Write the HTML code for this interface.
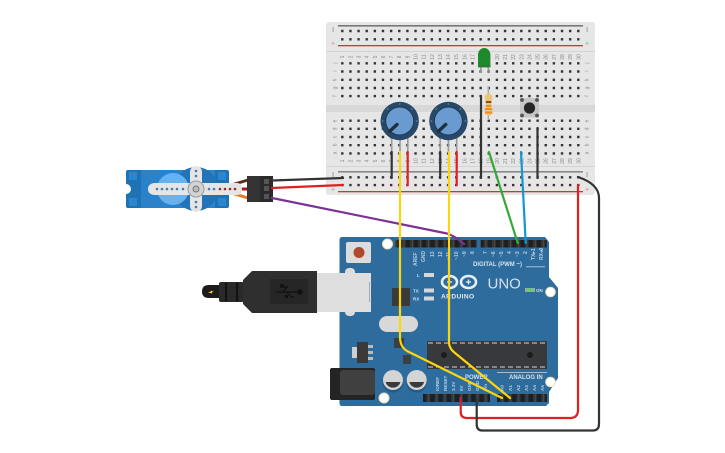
<!DOCTYPE html>
<html><head><meta charset="utf-8"><style>
html,body{margin:0;padding:0;background:#fff}
svg{display:block}
text{font-family:"Liberation Sans",sans-serif}
</style></head><body>
<svg width="725" height="453" viewBox="0 0 725 453" xmlns="http://www.w3.org/2000/svg">
<defs>
<pattern id="h" x="338.2" y="0" width="8.138" height="453" patternUnits="userSpaceOnUse"><rect x="2.9" y="0" width="2.4" height="453" fill="#333"/></pattern>
<pattern id="p" x="395.5" y="0" width="8.2" height="453" patternUnits="userSpaceOnUse"><rect x="0" y="0" width="8.2" height="453" fill="#343434"/><rect x="2" y="0" width="4.2" height="453" fill="#1f1f1f"/><rect x="0" y="0" width=".6" height="453" fill="#555"/></pattern>
<clipPath id="cr1"><rect x="338" y="29.8" width="244" height="2.4"/><rect x="338" y="38.1" width="244" height="2.4"/><rect x="338" y="176.1" width="244" height="2.4"/><rect x="338" y="183.9" width="244" height="2.4"/>
<rect x="338" y="62.1" width="244" height="2.4"/><rect x="338" y="70.3" width="244" height="2.4"/><rect x="338" y="78.6" width="244" height="2.4"/><rect x="338" y="86.8" width="244" height="2.4"/><rect x="338" y="94.9" width="244" height="2.4"/>
<rect x="338" y="119.5" width="244" height="2.4"/><rect x="338" y="127.6" width="244" height="2.4"/><rect x="338" y="135.8" width="244" height="2.4"/><rect x="338" y="144" width="244" height="2.4"/><rect x="338" y="152.2" width="244" height="2.4"/></clipPath>
</defs>

<!-- breadboard -->
<rect x="326" y="22" width="269" height="173" rx="3" fill="#e6e6e6"/>
<rect x="326" y="105" width="269" height="7" fill="#d8d8d8"/>
<rect x="326" y="51" width="269" height="1" fill="#d4d4d4"/>
<rect x="326" y="166" width="269" height="1" fill="#d4d4d4"/>
<rect x="338" y="24" width="244" height="165" fill="url(#h)" clip-path="url(#cr1)"/>
<rect x="338" y="25" width="245" height="1.6" fill="#777"/>
<rect x="338" y="45" width="245" height="1.3" fill="#c8383a"/>
<rect x="338" y="171" width="245" height="1.6" fill="#888"/>
<rect x="338" y="191" width="245" height="1.3" fill="#c8383a"/>
<g fill="#aaa"><rect x="332.5" y="27" width="1.2" height="5"/><rect x="586.5" y="27" width="1.2" height="5"/><rect x="332.5" y="172" width="1.2" height="5"/><rect x="586.5" y="172" width="1.2" height="5"/></g>
<g font-size="7" fill="#d98a8a" text-anchor="middle"><text x="333" y="45.5">+</text><text x="587" y="45.5">+</text><text x="333" y="191.5">+</text><text x="587" y="191.5">+</text></g>
<g font-size="5" fill="#888" text-anchor="middle">
<text transform="translate(336.5,63) rotate(-90)">j</text><text transform="translate(336.5,71) rotate(-90)">i</text><text transform="translate(336.5,80) rotate(-90)">h</text><text transform="translate(336.5,88) rotate(-90)">g</text><text transform="translate(336.5,96) rotate(-90)">f</text>
<text transform="translate(336.5,121) rotate(-90)">e</text><text transform="translate(336.5,129) rotate(-90)">d</text><text transform="translate(336.5,137) rotate(-90)">c</text><text transform="translate(336.5,145) rotate(-90)">b</text><text transform="translate(336.5,153) rotate(-90)">a</text>
<text transform="translate(588.5,63) rotate(-90)">j</text><text transform="translate(588.5,71) rotate(-90)">i</text><text transform="translate(588.5,80) rotate(-90)">h</text><text transform="translate(588.5,88) rotate(-90)">g</text><text transform="translate(588.5,96) rotate(-90)">f</text>
<text transform="translate(588.5,121) rotate(-90)">e</text><text transform="translate(588.5,129) rotate(-90)">d</text><text transform="translate(588.5,137) rotate(-90)">c</text><text transform="translate(588.5,145) rotate(-90)">b</text><text transform="translate(588.5,153) rotate(-90)">a</text>
</g>
<g font-size="5" fill="#888" text-anchor="middle">
<text transform="translate(344,57) rotate(-90)">1</text><text transform="translate(352.4,57) rotate(-90)">2</text><text transform="translate(360.5,57) rotate(-90)">3</text><text transform="translate(368.7,57) rotate(-90)">4</text><text transform="translate(376.8,57) rotate(-90)">5</text><text transform="translate(384.9,57) rotate(-90)">6</text><text transform="translate(393.1,57) rotate(-90)">7</text><text transform="translate(401.2,57) rotate(-90)">8</text><text transform="translate(409.3,57) rotate(-90)">9</text><text transform="translate(417.5,57) rotate(-90)">10</text><text transform="translate(425.6,57) rotate(-90)">11</text><text transform="translate(433.8,57) rotate(-90)">12</text><text transform="translate(441.9,57) rotate(-90)">13</text><text transform="translate(450,57) rotate(-90)">14</text><text transform="translate(458.2,57) rotate(-90)">15</text><text transform="translate(466.3,57) rotate(-90)">16</text><text transform="translate(474.5,57) rotate(-90)">17</text><text transform="translate(482.6,57) rotate(-90)">18</text><text transform="translate(490.7,57) rotate(-90)">19</text><text transform="translate(498.9,57) rotate(-90)">20</text><text transform="translate(507,57) rotate(-90)">21</text><text transform="translate(515.1,57) rotate(-90)">22</text><text transform="translate(523.3,57) rotate(-90)">23</text><text transform="translate(531.4,57) rotate(-90)">24</text><text transform="translate(539.6,57) rotate(-90)">25</text><text transform="translate(547.7,57) rotate(-90)">26</text><text transform="translate(555.8,57) rotate(-90)">27</text><text transform="translate(564,57) rotate(-90)">28</text><text transform="translate(572.1,57) rotate(-90)">29</text><text transform="translate(580.3,57) rotate(-90)">30</text>
<text transform="translate(344,161) rotate(-90)">1</text><text transform="translate(352.4,161) rotate(-90)">2</text><text transform="translate(360.5,161) rotate(-90)">3</text><text transform="translate(368.7,161) rotate(-90)">4</text><text transform="translate(376.8,161) rotate(-90)">5</text><text transform="translate(384.9,161) rotate(-90)">6</text><text transform="translate(393.1,161) rotate(-90)">7</text><text transform="translate(401.2,161) rotate(-90)">8</text><text transform="translate(409.3,161) rotate(-90)">9</text><text transform="translate(417.5,161) rotate(-90)">10</text><text transform="translate(425.6,161) rotate(-90)">11</text><text transform="translate(433.8,161) rotate(-90)">12</text><text transform="translate(441.9,161) rotate(-90)">13</text><text transform="translate(450,161) rotate(-90)">14</text><text transform="translate(458.2,161) rotate(-90)">15</text><text transform="translate(466.3,161) rotate(-90)">16</text><text transform="translate(474.5,161) rotate(-90)">17</text><text transform="translate(482.6,161) rotate(-90)">18</text><text transform="translate(490.7,161) rotate(-90)">19</text><text transform="translate(498.9,161) rotate(-90)">20</text><text transform="translate(507,161) rotate(-90)">21</text><text transform="translate(515.1,161) rotate(-90)">22</text><text transform="translate(523.3,161) rotate(-90)">23</text><text transform="translate(531.4,161) rotate(-90)">24</text><text transform="translate(539.6,161) rotate(-90)">25</text><text transform="translate(547.7,161) rotate(-90)">26</text><text transform="translate(555.8,161) rotate(-90)">27</text><text transform="translate(564,161) rotate(-90)">28</text><text transform="translate(572.1,161) rotate(-90)">29</text><text transform="translate(580.3,161) rotate(-90)">30</text>
</g>

<!-- LED -->
<path d="M481 64 L480.8 73 M487 64 L489.5 73" stroke="#999" stroke-width="1.6" fill="none"/>
<path d="M478 67 V55 a6.2 7 0 0 1 12.4 0 V67 Z" fill="#1f8a2b"/>
<rect x="478" y="65" width="12.4" height="2.4" fill="#2c7a33"/>

<!-- resistor -->
<rect x="487.6" y="87" width="1.5" height="33" fill="#aaa"/>
<path d="M484.8 96 q3.6 -5 7.6 0 v3 l-1 2 v8 l1 2 v3 q-3.8 3 -7.6 0 v-3 l1 -2 v-8 l-1 -2 Z" fill="#ecc476"/>
<rect x="485.8" y="101" width="5.6" height="2" fill="#8a4b1e"/><rect x="485.8" y="105" width="5.6" height="2" fill="#f48b1f"/><rect x="485" y="108" width="7.2" height="2" fill="#f48b1f"/><rect x="485" y="111.5" width="7.2" height="2" fill="#f48b1f"/>

<!-- pushbutton -->
<rect x="520" y="98" width="19" height="19.5" fill="#c6c6c6"/>
<circle cx="529.5" cy="108" r="5.6" fill="#262626"/>
<g fill="#555"><circle cx="522" cy="100" r="1.9"/><circle cx="537" cy="100" r="1.9"/><circle cx="522" cy="115.5" r="1.9"/><circle cx="537" cy="115.5" r="1.9"/></g>

<!-- pots -->
<g>
<g fill="#999"><rect x="390.9" y="138" width="1.6" height="15"/><rect x="399.2" y="138" width="1.6" height="15"/><rect x="407" y="138" width="1.6" height="15"/>
<rect x="439.4" y="138" width="1.6" height="15"/><rect x="447.6" y="138" width="1.6" height="15"/><rect x="455.9" y="138" width="1.6" height="15"/></g>
<circle cx="399.7" cy="121" r="19.2" fill="#28486a"/><circle cx="399.7" cy="121" r="14" fill="#6a9bd0" stroke="#1f3a52" stroke-width="1"/>
<path d="M390 131 L397 124.5" stroke="#1e2f3e" stroke-width="3.4" stroke-linecap="round"/>
<circle cx="448.4" cy="121" r="19.2" fill="#28486a"/><circle cx="448.4" cy="121" r="14" fill="#6a9bd0" stroke="#1f3a52" stroke-width="1"/>
<path d="M438.7 131 L445.7 124.5" stroke="#1e2f3e" stroke-width="3.4" stroke-linecap="round"/>
<g fill="#5c7f9e"><circle cx="399.7" cy="104" r=".9"/><circle cx="416.7" cy="121" r=".9"/><circle cx="382.7" cy="121" r=".9"/><circle cx="411.7" cy="109" r=".9"/><circle cx="387.7" cy="109" r=".9"/><circle cx="448.4" cy="104" r=".9"/><circle cx="465.4" cy="121" r=".9"/><circle cx="431.4" cy="121" r=".9"/><circle cx="460.4" cy="109" r=".9"/><circle cx="436.4" cy="109" r=".9"/></g>
</g>

<!-- arduino -->
<path d="M342 237 H545 L549 242 V277 L558 288 V378 L549 392 V403 L546 406 H342 Q339.5 406 339.5 403 V240 Q339.5 237 342 237 Z" fill="#2e6c9d"/>
<circle cx="387.5" cy="244" r="5" fill="#fff" stroke="#e8e0b8" stroke-width="1"/>
<circle cx="550.5" cy="292" r="4.8" fill="#fff" stroke="#e8e0b8" stroke-width="1"/>
<circle cx="384" cy="398" r="5" fill="#fff" stroke="#e8e0b8" stroke-width="1"/>
<circle cx="550.5" cy="382" r="4.8" fill="#fff" stroke="#e8e0b8" stroke-width="1"/>
<rect x="346" y="242" width="25" height="21" rx="2" fill="#dcdcdc"/><circle cx="359" cy="252.5" r="5.5" fill="#ac4a2e"/>
<rect x="395" y="240" width="81.8" height="7.5" fill="url(#p)"/><rect x="480.7" y="240" width="66" height="7.5" fill="url(#p)"/>
<rect x="423" y="394" width="67" height="8" fill="url(#p)"/><rect x="497" y="394" width="50" height="8" fill="url(#p)"/>
<g font-size="5" fill="#b8cfe0" font-weight="bold" text-anchor="start">
<text transform="translate(417,251) rotate(-90)" dx="-15">AREF</text><text transform="translate(425,251) rotate(-90)" dx="-11">GND</text><text transform="translate(434,251) rotate(-90)" dx="-6">13</text><text transform="translate(442,251) rotate(-90)" dx="-6">12</text><text transform="translate(450,251) rotate(-90)" dx="-9">~11</text><text transform="translate(458,251) rotate(-90)" dx="-9">~10</text><text transform="translate(466,251) rotate(-90)" dx="-6">~9</text><text transform="translate(474,251) rotate(-90)" dx="-3">8</text>
<text transform="translate(487,251) rotate(-90)" dx="-3">7</text><text transform="translate(495,251) rotate(-90)" dx="-6">~6</text><text transform="translate(503,251) rotate(-90)" dx="-6">~5</text><text transform="translate(511,251) rotate(-90)" dx="-3">4</text><text transform="translate(519,251) rotate(-90)" dx="-6">~3</text><text transform="translate(527,251) rotate(-90)" dx="-3">2</text><text transform="translate(535,251) rotate(-90)" dx="-9">TX▸1</text><text transform="translate(543,251) rotate(-90)" dx="-9">RX◂0</text>
</g>
<g font-size="4.6" fill="#b8cfe0" font-weight="bold" text-anchor="start">
<text transform="translate(439,391) rotate(-90)">IOREF</text><text transform="translate(447,391) rotate(-90)">RESET</text><text transform="translate(455,391) rotate(-90)">3.3V</text><text transform="translate(463,391) rotate(-90)">5V</text><text transform="translate(471,391) rotate(-90)">GND</text><text transform="translate(479,391) rotate(-90)">GND</text><text transform="translate(487,391) rotate(-90)">Vin</text>
<text transform="translate(503.7,391) rotate(-90)">A0</text><text transform="translate(512,391) rotate(-90)">A1</text><text transform="translate(520,391) rotate(-90)">A2</text><text transform="translate(528,391) rotate(-90)">A3</text><text transform="translate(536,391) rotate(-90)">A4</text><text transform="translate(544,391) rotate(-90)">A5</text>
</g>
<rect x="526" y="266.5" width="19" height=".7" fill="#d5e2ec"/>
<text x="473" y="266" font-size="6" font-weight="bold" fill="#d5e2ec">DIGITAL (PWM ~)</text>
<rect x="497" y="372" width="50" height=".7" fill="#d5e2ec"/>
<text x="465" y="379" font-size="6" font-weight="bold" fill="#d5e2ec">POWER</text>
<text x="509" y="379" font-size="6" font-weight="bold" fill="#d5e2ec">ANALOG IN</text>
<g fill="none" stroke="#e8eef3" stroke-width="2.6"><ellipse cx="449.5" cy="282" rx="7.5" ry="6"/><ellipse cx="468.5" cy="282" rx="7.5" ry="6"/></g>
<path d="M447 282 h5 M466 282 h5 M468.5 279.5 v5" stroke="#e8eef3" stroke-width="1.2"/>
<text x="441" y="298.5" font-size="6.6" font-weight="bold" letter-spacing=".4" fill="#e4edf3">ARDUINO</text>
<text x="487.5" y="288.5" font-size="15" fill="#d5e2ec">UNO</text>
<text x="536" y="292" font-size="4.5" font-weight="bold" fill="#d5e2ec">ON</text>
<rect x="525" y="288" width="10" height="4" fill="#8ab29c"/><rect x="529" y="288.5" width="3" height="3" fill="#58d75a"/>
<g font-size="4.5" font-weight="bold" fill="#d5e2ec"><text x="417" y="277">L</text><text x="413" y="292.5">TX</text><text x="413" y="300.5">RX</text></g>
<g fill="#d6d6d6"><rect x="424" y="273" width="10" height="4"/><rect x="424" y="288.5" width="10" height="4"/><rect x="424" y="296.5" width="10" height="4"/></g>
<rect x="392" y="288" width="18" height="18" rx="1" fill="#3a3a3a"/>
<rect x="379" y="316" width="39" height="16" rx="8" fill="#d8d8d8"/>
<rect x="394" y="338" width="10" height="10" fill="#3a3f44"/>
<rect x="357" y="342" width="11" height="21" fill="#3a3a3a"/><rect x="352" y="347" width="5" height="11" fill="#cfcfcf"/><rect x="368" y="345" width="5" height="3" fill="#bbb"/><rect x="368" y="351" width="5" height="3" fill="#bbb"/><rect x="368" y="357" width="5" height="3" fill="#bbb"/>
<rect x="403" y="355" width="8" height="9" fill="#3a3f44"/>
<rect x="427" y="341" width="120" height="28" fill="#38393c"/>
<path d="M428 343 H546 M428 367 H546" stroke="#d8d8d8" stroke-width="1" stroke-dasharray="5 3"/>
<circle cx="444" cy="355" r="3" fill="#1c1c1c"/><circle cx="530" cy="355" r="3" fill="#1c1c1c"/>
<rect x="330" y="368" width="45" height="32" rx="2" fill="#242424"/><rect x="340" y="370" width="35" height="25" rx="3" fill="#404040"/>
<circle cx="393" cy="382" r="10.5" fill="#235a86"/><circle cx="416.7" cy="382" r="10.5" fill="#235a86"/>
<circle cx="393" cy="380" r="10" fill="#d4d4d4"/><path d="M385.5 382 a7.8 7.8 0 0 0 15 0 Z" fill="#3a3a3a"/>
<circle cx="416.7" cy="380" r="10" fill="#d4d4d4"/><path d="M409.2 382 a7.8 7.8 0 0 0 15 0 Z" fill="#3a3a3a"/>

<!-- USB -->
<rect x="345" y="268" width="10" height="48" rx="4" fill="#dcdcdc"/>
<rect x="317" y="273" width="54" height="39" fill="#dedede"/>
<rect x="369" y="282" width="1" height="20" fill="#aaa"/>
<path d="M219 285 H209 Q202 285 202 291.5 Q202 298 209 298 H219 Z" fill="#1c1c1c"/>
<rect x="219" y="282" width="25" height="20" rx="2" fill="#2a2a2a"/>
<path d="M243 280 L252 271 H317 V313 H252 L243 304 Z" fill="#2f2f2f"/>
<path d="M226 283 v18 M237 283 v18" stroke="#111" stroke-width="2"/>
<rect x="270" y="279" width="38" height="25" fill="#262626"/>
<path d="M276 292 h26 M283 292 l4 -5 h-7 M287 292 l4 5 h3" stroke="#111" stroke-width="1.3" fill="none"/><circle cx="300" cy="292" r="2.8" fill="#111"/><circle cx="282" cy="286" r="2" fill="#111"/><rect x="285" y="295" width="3" height="3" fill="#111"/>
<path d="M208 293 l4 -2.5 v1 l2 -1 -3 3.5 v-1 Z" fill="#f1c232"/>

<!-- servo -->
<rect x="126" y="170" width="103" height="38" rx="2" fill="#1f73b5"/>
<rect x="141" y="170" width="74" height="38" fill="#2a82ca"/>
<circle cx="196" cy="189" r="22" fill="#2174b8"/>
<circle cx="173" cy="189" r="16" fill="#66b2f0"/>
<circle cx="126" cy="189" r="5" fill="#fff"/>
<rect x="129" y="172" width="8" height="8" fill="#2a86cf"/><rect x="129" y="198" width="8" height="8" fill="#2a86cf"/><rect x="218" y="172" width="8" height="8" fill="#2a86cf"/><rect x="218" y="198" width="8" height="8" fill="#2a86cf"/>
<path d="M228 186 L248 180" stroke="#5a2e1c" stroke-width="3"/><path d="M228 189 H248" stroke="#b31414" stroke-width="3"/><path d="M228 192 L248 198" stroke="#e87a22" stroke-width="3"/>
<path d="M154 183 H238 Q242 184 242 189 Q242 194 238 195 H154 Q148 194 148 189 Q148 184 154 183 Z" fill="#e5e5e5"/>
<rect x="190" y="166" width="12" height="46" rx="6" fill="#e5e5e5"/>
<circle cx="196" cy="189" r="8" fill="#d3d3d3" stroke="#999"/><circle cx="196" cy="189" r="3" fill="#bbb" stroke="#777"/>
<g fill="#3d7fb2"><circle cx="157" cy="189" r="1.3"/><circle cx="162" cy="189" r="1.3"/><circle cx="167" cy="189" r="1.3"/><circle cx="172" cy="189" r="1.3"/><circle cx="177" cy="189" r="1.3"/><circle cx="183" cy="189" r="1.3"/><circle cx="196" cy="171" r="1.3"/><circle cx="196" cy="176" r="1.3"/><circle cx="196" cy="202" r="1.3"/><circle cx="196" cy="207" r="1.3"/><circle cx="209" cy="189" r="1.3"/><circle cx="214" cy="189" r="1.3"/></g>
<g fill="#8e2c2c"><circle cx="220" cy="189" r="1.3"/><circle cx="225" cy="189" r="1.3"/><circle cx="230" cy="189" r="1.3"/><circle cx="235" cy="189" r="1.3"/></g>
<rect x="247" y="176" width="26" height="26" fill="#2b2b2b"/><rect x="247" y="176" width="13" height="26" fill="#333"/>
<g fill="#555"><rect x="264" y="179" width="5" height="5"/><rect x="264" y="186" width="5" height="5"/><rect x="264" y="194" width="5" height="5"/></g>

<!-- wires -->
<g fill="none" stroke-width="2.2" stroke-linecap="round" stroke-linejoin="round">
<path d="M391.7 152 V178" stroke="#333"/><path d="M407.7 152 V185" stroke="#e02020"/>
<path d="M440.2 152 V178" stroke="#333"/><path d="M456.7 152 V185" stroke="#e02020"/>
<path d="M481 96 V178" stroke="#333"/><path d="M537.5 128 V178" stroke="#333"/>
<path d="M272 180.5 L343 178" stroke="#333"/><path d="M272 188 L343 185" stroke="#e02020"/>
<path d="M272 198 L447 233.5 Q455 236 464 244" stroke="#7b3294"/>
<path d="M489 152 L517.7 243" stroke="#35a83a"/>
<path d="M521 152 L525.7 243" stroke="#1097d4"/>
<path d="M578 185 V410 Q578 418 570 418 H467 Q460.7 418 460.7 412 V398" stroke="#e02020"/>
<path d="M578 177 Q599 184 599 198 V424 Q599 430.5 593 430.5 H482 Q476.7 430.5 476.7 424 V398" stroke="#333"/>
<path d="M400 152 V338 Q400.5 347 407 351 L502 398" stroke="#fbd60f"/>
<path d="M449 152 V343 Q449.5 349 455 353 L510 398" stroke="#fbd60f"/>
</g>
</svg>
</body></html>
